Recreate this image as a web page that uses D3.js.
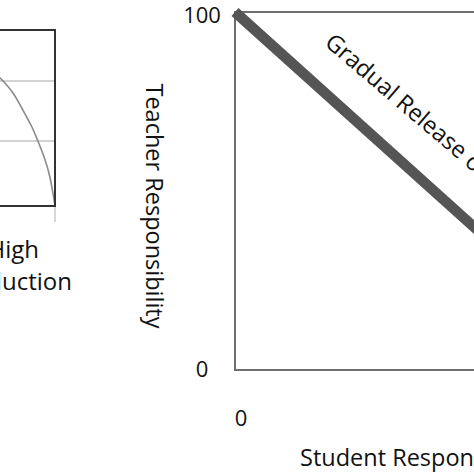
<!DOCTYPE html>
<html>
<head>
<meta charset="utf-8">
<script src="https://cdn.jsdelivr.net/npm/d3@7"></script>
<style>
    html, body { margin: 0; padding: 0; background: #fff; }
    svg { display: block; font-family: "Open Sans", Lato, sans-serif; }
</style>
</head>
<body>
<div id="chart"></div>
<script>
// left panel (only its right end is visible)
const leftX = [76, 81.7, 82.7, 86, 89.3, 92.3, 94.3, 96.7, 98.3, 99.3, 100];
const leftY = [80, 72.7, 71, 64.2, 54.5, 44.9, 36.9, 26.1, 16.5, 7.4, 0];
const leftGrid = [37, 71];
const leftTicks = [100];
const leftLabel = ["High", "Reduction"];

// right panel: gradual release
const studentShare = [0, 100];
const teacherShare = [100, 0];
const yTickValues = [0, 100];
const xTickValues = [0];
const yTitle = "Teacher Responsibility";
const xTitle = "Student Responsibility";
const lineLabel = "Gradual Release of Responsibility";

const width = 474;
const height = 474;

const svg = d3.select('#chart')
    .append('svg')
    .attr('width', width)
    .attr('height', height);

// ---- left panel ----
const xL = d3.scaleLinear().domain([0, 100]).range([-245, 55]);
const yL = d3.scaleLinear().domain([0, 100]).range([206, 30]);

svg.selectAll('.grid')
    .data(leftGrid)
    .enter().append('line')
    .attr('x1', xL(0))
    .attr('x2', xL(100))
    .attr('y1', d => yL(d))
    .attr('y2', d => yL(d))
    .attr('stroke', '#c4c4c4')
    .attr('stroke-width', 1.5);

svg.selectAll('.ltick')
    .data(leftTicks)
    .enter().append('line')
    .attr('x1', d => xL(d))
    .attr('x2', d => xL(d))
    .attr('y1', yL(0))
    .attr('y2', yL(0) + 16)
    .attr('stroke', '#bdbdbd')
    .attr('stroke-width', 1.2);

const leftPts = leftX.map((x, i) => ({x, y: leftY[i]}));
svg.append('path')
    .datum(leftPts)
    .attr('fill', 'none')
    .attr('stroke', '#8a8a8a')
    .attr('stroke-width', 1.6)
    .attr('d', d3.line().x(d => xL(d.x)).y(d => yL(d.y)).curve(d3.curveCatmullRom));

svg.append('rect')
    .attr('x', xL(0))
    .attr('y', yL(100))
    .attr('width', xL(100) - xL(0))
    .attr('height', yL(0) - yL(100))
    .attr('fill', 'none')
    .attr('stroke', '#333')
    .attr('stroke-width', 2);

svg.append('text')
    .attr('x', 39)
    .attr('y', 258)
    .attr('text-anchor', 'end')
    .style('font-size', '24px')
    .attr('fill', '#111')
    .text(leftLabel[0]);

svg.append('text')
    .attr('x', 72)
    .attr('y', 290)
    .attr('text-anchor', 'end')
    .style('font-size', '24px')
    .attr('fill', '#111')
    .text(leftLabel[1]);

// ---- right panel ----
const xR = d3.scaleLinear().domain([0, 100]).range([235, 633]);
const yR = d3.scaleLinear().domain([0, 100]).range([370, 12]);

svg.append('rect')
    .attr('x', xR(0))
    .attr('y', yR(100))
    .attr('width', xR(100) - xR(0))
    .attr('height', yR(0) - yR(100))
    .attr('fill', 'none')
    .attr('stroke', '#6e6e6e')
    .attr('stroke-width', 2);

const releasePts = studentShare.map((s, i) => ({s, t: teacherShare[i]}));
svg.append('path')
    .datum(releasePts)
    .attr('fill', 'none')
    .attr('stroke', '#555')
    .attr('stroke-width', 10.5)
    .attr('d', d3.line().x(d => xR(d.s)).y(d => yR(d.t)));

// label parallel to the line
const angle = Math.atan2(yR(0) - yR(100), xR(100) - xR(0)) * 180 / Math.PI;
svg.append('text')
    .attr('transform', `translate(${xR(16.5)},${yR(83.5)}) rotate(${angle - 1.5})`)
    .attr('dy', -35)
    .style('font-size', '23.5px')
    .attr('fill', '#111')
    .text(lineLabel);

svg.selectAll('.ytick')
    .data(yTickValues)
    .enter().append('text')
    .attr('x', xR(0) - 33)
    .attr('y', d => yR(d) + (d === 100 ? 2 : -2))
    .attr('text-anchor', 'middle')
    .attr('dominant-baseline', 'central')
    .style('font-size', '22px')
    .attr('fill', '#111')
    .text(d => d);

svg.selectAll('.xtick')
    .data(xTickValues)
    .enter().append('text')
    .attr('x', d => xR(d) + 6)
    .attr('y', yR(0) + 56)
    .attr('text-anchor', 'middle')
    .style('font-size', '22px')
    .attr('fill', '#111')
    .text(d => d);

svg.append('text')
    .attr('transform', `translate(146,206) rotate(90)`)
    .attr('text-anchor', 'middle')
    .style('font-size', '23.5px')
    .attr('fill', '#111')
    .text(yTitle);

svg.append('text')
    .attr('x', 300)
    .attr('y', 466)
    .style('font-size', '23.5px')
    .attr('fill', '#111')
    .text(xTitle);
</script>
</body>
</html>
